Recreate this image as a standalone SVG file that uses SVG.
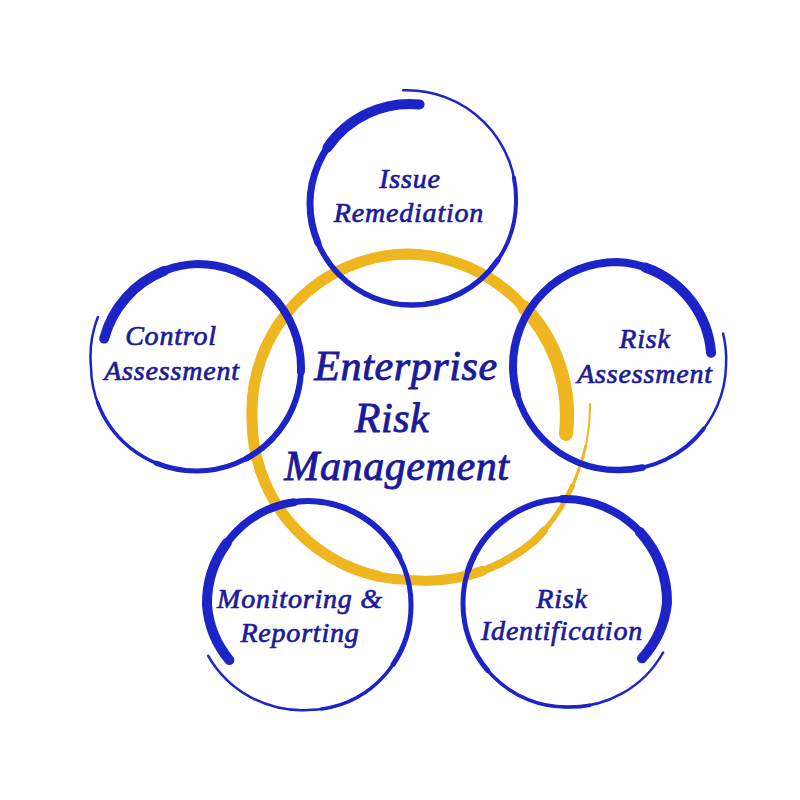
<svg xmlns="http://www.w3.org/2000/svg" xmlns:xlink="http://www.w3.org/1999/xlink" width="800" height="800" viewBox="0 0 800 800">
  <style>
    .blue { fill: none; stroke: #1c24c8; stroke-linecap: round; }
    .gold { fill: none; stroke: #f0b620; stroke-linecap: round; }
    .lbl { font-family: "Liberation Serif", "Times New Roman", serif; font-style: italic; fill: #1a1a9a; stroke: #1a1a9a; stroke-width: 0.7px; text-anchor: middle; }
    .sm { font-size: 28px; letter-spacing: 0.8px; }
    .lg { font-size: 42px; letter-spacing: 0.6px; stroke-width: 0.9px; }
  </style>
  <defs>
    <path id="ring0" pathLength="100" d="M 566 434 A 158 158 0 0 0 521 304 A 160 160 0 0 0 408 254 A 158 158 0 0 0 252 418 A 161 161 0 0 0 410 580 A 168 168 0 0 0 533 542 A 178 178 0 0 0 578 472 A 183 183 0 0 0 590 404"/>
    <path id="ring1" pathLength="100" d="M 419.6 104.4 A 100 100 0 0 0 310 203 A 101.5 101.5 0 0 0 411 305 A 103.5 103.5 0 0 0 516 203 A 109 109 0 0 0 403.1 90.3"/>
    <path id="ring2" pathLength="100" d="M 104.2 338.6 A 100 100 0 0 1 197 264 A 103.5 103.5 0 0 1 301 367 A 104 104 0 0 1 197 471 A 105 105 0 0 1 91 367 A 108 108 0 0 1 97.9 317"/>
    <path id="ring3" pathLength="100" d="M 711.1 352.8 A 99 99 0 0 0 617 262 A 104 104 0 0 0 513 366 A 104 104 0 0 0 617 470 A 106.5 106.5 0 0 0 726 366 A 110 110 0 0 0 723.1 333.5"/>
    <path id="ring4" pathLength="100" d="M 229.4 660.1 A 98 98 0 0 1 207 605 A 102.5 102.5 0 0 1 308 501 A 103.5 103.5 0 0 1 411 605 A 104 104 0 0 1 308 710 A 108 108 0 0 1 208.2 655.8"/>
    <path id="ring5" pathLength="100" d="M 642 658.3 A 97 97 0 0 0 667 603 A 102.5 102.5 0 0 0 566 499 A 103.5 103.5 0 0 0 463 603 A 103.5 103.5 0 0 0 566 707 A 106.5 106.5 0 0 0 663.1 652.5"/>
  </defs>
  <rect width="800" height="800" fill="#ffffff"/>

  <g id="connectors"></g>

  <g id="node-erm">
    <use xlink:href="#ring0" class="gold" stroke-width="2"/>
    <use xlink:href="#ring0" class="gold" stroke-width="3" stroke-dasharray="96 200"/>
    <use xlink:href="#ring0" class="gold" stroke-width="5" stroke-dasharray="92 200"/>
    <use xlink:href="#ring0" class="gold" stroke-width="8" stroke-dasharray="87 200"/>
    <use xlink:href="#ring0" class="gold" stroke-width="10" stroke-dasharray="80 200"/>
    <use xlink:href="#ring0" class="gold" stroke-width="11" stroke-dasharray="70 200"/>
    <use xlink:href="#ring0" class="gold" stroke-width="14" stroke-dasharray="13 200"/>
    <text class="lbl lg" x="406" y="380">Enterprise</text>
    <text class="lbl lg" x="392" y="432">Risk</text>
    <text class="lbl lg" x="397" y="480">Management</text>
  </g>

  <g id="node-issue">
    <use xlink:href="#ring1" class="blue" stroke-width="2.5"/>
    <use xlink:href="#ring1" class="blue" stroke-width="4" stroke-dasharray="77 200"/>
    <use xlink:href="#ring1" class="blue" stroke-width="5.5" stroke-dasharray="64 200"/>
    <use xlink:href="#ring1" class="blue" stroke-width="7" stroke-dasharray="31 200"/>
    <use xlink:href="#ring1" class="blue" stroke-width="10" stroke-dasharray="16 200"/>
    <text class="lbl sm" x="410" y="188">Issue</text>
    <text class="lbl sm" x="409" y="222">Remediation</text>
  </g>

  <g id="node-control">
    <use xlink:href="#ring2" class="blue" stroke-width="2.5"/>
    <use xlink:href="#ring2" class="blue" stroke-width="3.5" stroke-dasharray="87 200"/>
    <use xlink:href="#ring2" class="blue" stroke-width="5" stroke-dasharray="74 200"/>
    <use xlink:href="#ring2" class="blue" stroke-width="6" stroke-dasharray="60 200"/>
    <use xlink:href="#ring2" class="blue" stroke-width="8" stroke-dasharray="44 200"/>
    <use xlink:href="#ring2" class="blue" stroke-width="10" stroke-dasharray="14 200"/>
    <text class="lbl sm" x="171" y="345">Control</text>
    <text class="lbl sm" x="172" y="380">Assessment</text>
  </g>

  <g id="node-risk-assessment">
    <use xlink:href="#ring3" class="blue" stroke-width="2.5"/>
    <use xlink:href="#ring3" class="blue" stroke-width="4" stroke-dasharray="85 200"/>
    <use xlink:href="#ring3" class="blue" stroke-width="6.5" stroke-dasharray="74 200"/>
    <use xlink:href="#ring3" class="blue" stroke-width="8" stroke-dasharray="50 200"/>
    <use xlink:href="#ring3" class="blue" stroke-width="10" stroke-dasharray="17 200"/>
    <text class="lbl sm" x="645" y="348">Risk</text>
    <text class="lbl sm" x="645" y="383">Assessment</text>
  </g>

  <g id="node-monitoring">
    <use xlink:href="#ring4" class="blue" stroke-width="2.5"/>
    <use xlink:href="#ring4" class="blue" stroke-width="3.5" stroke-dasharray="80 200"/>
    <use xlink:href="#ring4" class="blue" stroke-width="5" stroke-dasharray="67 200"/>
    <use xlink:href="#ring4" class="blue" stroke-width="6" stroke-dasharray="50 200"/>
    <use xlink:href="#ring4" class="blue" stroke-width="8" stroke-dasharray="31 200"/>
    <use xlink:href="#ring4" class="blue" stroke-width="10" stroke-dasharray="19 200"/>
    <text class="lbl sm" x="300" y="608">Monitoring &amp;</text>
    <text class="lbl sm" x="300" y="642">Reporting</text>
  </g>

  <g id="node-risk-identification">
    <use xlink:href="#ring5" class="blue" stroke-width="2.5"/>
    <use xlink:href="#ring5" class="blue" stroke-width="3.5" stroke-dasharray="86 200"/>
    <use xlink:href="#ring5" class="blue" stroke-width="5" stroke-dasharray="69 200"/>
    <use xlink:href="#ring5" class="blue" stroke-width="6" stroke-dasharray="53 200"/>
    <use xlink:href="#ring5" class="blue" stroke-width="8" stroke-dasharray="34 200"/>
    <use xlink:href="#ring5" class="blue" stroke-width="10" stroke-dasharray="21 200"/>
    <text class="lbl sm" x="562" y="608">Risk</text>
    <text class="lbl sm" x="562" y="640">Identification</text>
  </g>
</svg>
